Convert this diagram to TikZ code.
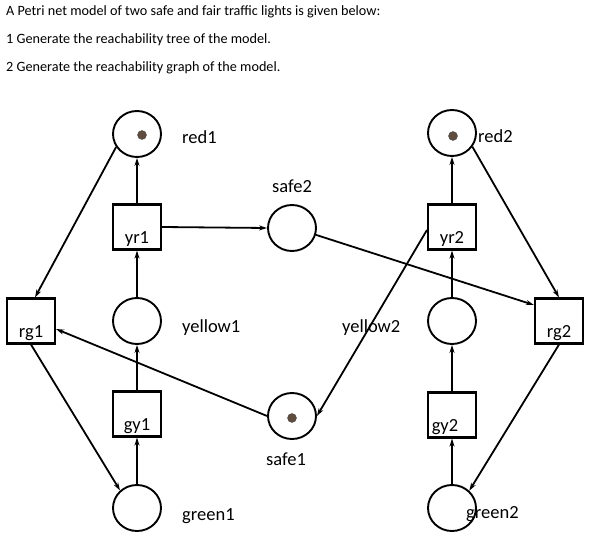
\documentclass[tikz,border=0pt]{standalone}
\usepackage{fontspec}
\setmainfont{Carlito}
\usepackage{tikz}
\usetikzlibrary{arrows,shapes}
\usetikzlibrary{arrows.meta}
\usetikzlibrary{positioning}
\definecolor{tokenbrown}{RGB}{96,76,62}
\tikzset{
    place/.style={draw=black, ellipse, line width=1.9bp, minimum width=48bp, minimum height=46bp, inner sep=0pt},
    transition/.style={draw=black, rectangle, line width=2.1bp, minimum width=48bp, minimum height=45bp, inner sep=0pt},
    token/.style={circle, fill=tokenbrown, draw=black!70, line width=0.4bp, minimum size=9bp, inner sep=0pt},
    arc/.style={draw=black, line width=1.8bp, -{Stealth[length=8bp,width=5bp]}},
    tlabel/.style={anchor=base, inner sep=0pt, yshift=7bp, font=\fontsize{18.5bp}{20bp}\selectfont},
    plabel/.style={anchor=base west, inner sep=0pt, font=\fontsize{18.5bp}{20bp}\selectfont},
    task/.style={anchor=base west, inner sep=0pt, font=\fontsize{14.2bp}{16bp}\selectfont},
}
\begin{document}
\begin{tikzpicture}[x=1bp, y=-1bp]
	\useasboundingbox (0,0) rectangle (589,536);
	% text above the net
	\node[task] (task0) at (6,16) {A Petri net model of two safe and fair traffic lights is given below:};
	\node[task] (task1) at (6,44) {1 Generate the reachability tree of the model.};
	\node[task] (task2) at (6,72) {2 Generate the reachability graph of the model.};
	% places
	\node[place] (red1) at (137,134) {};
	\node[place] (yellow1) at (137,321) {};
	\node[place] (green1) at (137,508) {};
	\node[place] (safe2) at (292,228) {};
	\node[place] (safe1) at (292,416) {};
	\node[place] (red2) at (452,133) {};
	\node[place] (yellow2) at (452,321) {};
	\node[place] (green2) at (452,508) {};
	% tokens
	\node[token] (tokred1) at (142,135) {};
	\node[token] (tokred2) at (453,136) {};
	\node[token] (toksafe1) at (292,418) {};
	% transitions
	\node[transition, label={[tlabel]south:yr1}] (yr1) at (137,227) {};
	\node[transition, label={[tlabel]south:gy1}] (gy1) at (137,414) {};
	\node[transition, label={[tlabel]south:rg1}] (rg1) at (31,321) {};
	\node[transition, label={[tlabel]south:yr2}] (yr2) at (452,227) {};
	\node[transition, label={[tlabel, xshift=-7bp]south:gy2}] (gy2) at (452,415) {};
	\node[transition, label={[tlabel]south:rg2}] (rg2) at (559,321) {};
	% place names
	\node[plabel] (nred1) at (182,144) {red1};
	\node[plabel] (nyellow1) at (182,332) {yellow1};
	\node[plabel] (ngreen1) at (182,520) {green1};
	\node[plabel] (nsafe2) at (272,193) {safe2};
	\node[plabel] (nsafe1) at (266,465) {safe1};
	\node[plabel] (nred2) at (478,143) {red2};
	\node[plabel] (nyellow2) at (342,332) {yellow2};
	\node[plabel] (ngreen2) at (466,518) {green2};
	% first light
	\draw[arc] (green1) -- (gy1);
	\draw[arc] (gy1) -- (yellow1);
	\draw[arc] (yellow1) -- (yr1);
	\draw[arc] (yr1) -- (red1);
	\draw[arc] (red1.212) -- ([xshift=4bp]rg1.north);
	\draw[arc] (rg1.south) -- (green1.134);
	\draw[arc] (yr1.east) -- (safe2.west);
	\draw[arc] (safe1.west) -- ([yshift=-8bp]rg1.east);
	% second light
	\draw[arc] (green2) -- (gy2);
	\draw[arc] (gy2) -- (yellow2);
	\draw[arc] (yellow2) -- (yr2);
	\draw[arc] (yr2) -- (red2);
	\draw[arc] (red2.326) -- (rg2.north);
	\draw[arc] (rg2.south) -- (green2.45);
	\draw[arc] (safe2.344) -- ([yshift=16bp]rg2.west);
	\draw[arc] ([yshift=-3bp]yr2.west) -- (safe1.east);
\end{tikzpicture}
\end{document}
